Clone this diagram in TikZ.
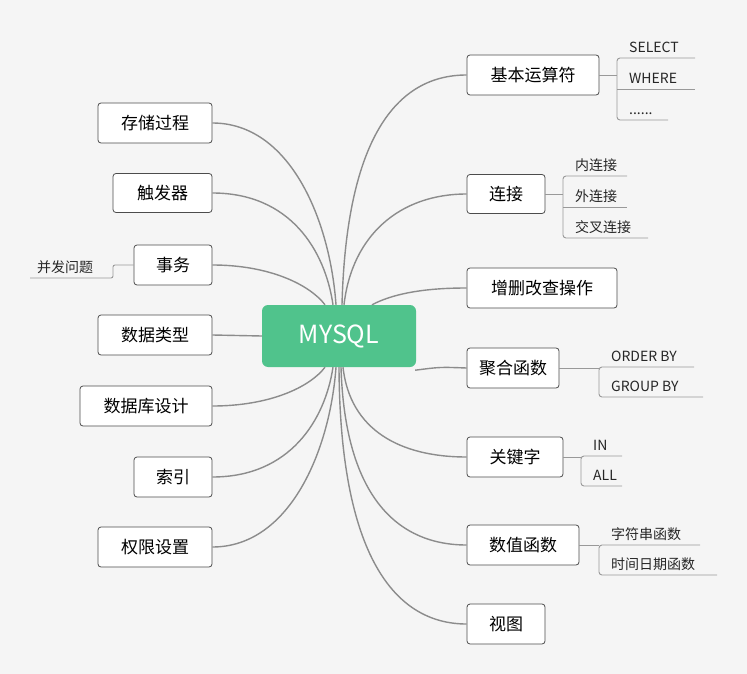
\documentclass[tikz,border=0pt]{standalone}
\usepackage{fontspec}
\setmainfont{Noto Sans CJK SC}
\begin{document}
\begin{tikzpicture}[x=1pt,y=-1pt,
  box/.style={draw=black!70,fill=white,rounded corners=3pt,line width=0.8pt,inner sep=0pt,font=\fontsize{17}{20}\selectfont},
  con/.style={draw=black!45,line width=1.4pt},
  sl/.style={draw=black!40,line width=0.9pt},
  st/.style={anchor=south west,inner sep=1pt,font=\fontsize{14}{17}\selectfont,text=black!85}]
\fill[black!4] (0,0) rectangle (747,674);
\useasboundingbox (0,0) rectangle (747,674);
\node[fill={rgb,255:red,80;green,195;blue,140},rounded corners=6pt,minimum width=154pt,minimum height=62pt,text=white,font=\fontsize{25}{30}\selectfont] (c) at (339,336) {MYSQL};
% right
\node[box,minimum width=132pt,minimum height=40pt] (r1) at (533,75) {基本运算符};
\node[box,minimum width=78pt,minimum height=39pt] (r2) at (506,194) {连接};
\node[box,minimum width=150pt,minimum height=40pt] (r3) at (542,288) {增删改查操作};
\node[box,minimum width=92pt,minimum height=40pt] (r4) at (513,368) {聚合函数};
\node[box,minimum width=96pt,minimum height=40pt] (r5) at (515,457) {关键字};
\node[box,minimum width=112pt,minimum height=40pt] (r6) at (523,545) {数值函数};
\node[box,minimum width=78pt,minimum height=40pt] (r7) at (506,624) {视图};
% left
\node[box,minimum width=114pt,minimum height=40pt] (l1) at (155,123) {存储过程};
\node[box,minimum width=99pt,minimum height=39pt] (l2) at (162.5,193) {触发器};
\node[box,minimum width=78pt,minimum height=40pt] (l3) at (173,265) {事务};
\node[box,minimum width=114pt,minimum height=40pt] (l4) at (155,335) {数据类型};
\node[box,minimum width=132pt,minimum height=40pt] (l5) at (146,406) {数据库设计};
\node[box,minimum width=78pt,minimum height=40pt] (l6) at (173,477) {索引};
\node[box,minimum width=114pt,minimum height=40pt] (l7) at (155,547) {权限设置};
% connectors right
\draw[con] ([xshift=3pt]c.north) .. controls (346,150) and (390,75) .. (r1.west);
\draw[con] ([xshift=5pt]c.north) .. controls (352,235) and (400,194) .. (r2.west);
\draw[con] ([xshift=33pt]c.north) .. controls (400,290) and (440,288) .. (r3.west);
\draw[con] ([yshift=-3pt,xshift=-1pt]c.south east) .. controls (440,367) .. (r4.west);
\draw[con] ([xshift=4pt]c.south) .. controls (350,430) and (400,457) .. (r5.west);
\draw[con] ([xshift=2pt]c.south) .. controls (345,500) and (400,545) .. (r6.west);
\draw[con] ([xshift=0pt]c.south) .. controls (340,565) and (400,624) .. (r7.west);
% connectors left
\draw[con] ([xshift=-3pt]c.north) .. controls (330,220) and (290,123) .. (l1.east);
\draw[con] ([xshift=-6pt]c.north) .. controls (325,250) and (290,193) .. (l2.east);
\draw[con] ([xshift=-14pt]c.north) .. controls (310,285) and (270,265) .. (l3.east);
\draw[con] (c.west) -- (l4.east);
\draw[con] ([xshift=-14pt]c.south) .. controls (310,387) and (270,406) .. (l5.east);
\draw[con] ([xshift=-6pt]c.south) .. controls (325,420) and (290,477) .. (l6.east);
\draw[con] ([xshift=-3pt]c.south) .. controls (330,450) and (290,547) .. (l7.east);
% sub items
\coordinate (b1) at (617,75);
\draw[sl] (r1.east) -- (b1);
\draw[sl,rounded corners=3pt] (695,58) -- (617,58) -- (617,120) -- (668,120);
\draw[sl] (617,89) -- (695,89);
\node[st] (s11) at (628,54) {SELECT};
\node[st] (s12) at (628,85) {WHERE};
\node[st] (s13) at (628,116) {......};
\coordinate (b2) at (563,194);
\draw[sl] (r2.east) -- (b2);
\draw[sl,rounded corners=3pt] (627,176) -- (563,176) -- (563,238) -- (648,238);
\draw[sl] (563,207) -- (627,207);
\node[st] (s21) at (574,173) {内连接};
\node[st] (s22) at (574,204) {外连接};
\node[st] (s23) at (574,235) {交叉连接};
\coordinate (b4) at (599,368);
\draw[sl] (r4.east) -- (b4);
\draw[sl,rounded corners=3pt] (694,367) -- (599,367) -- (599,397) -- (703,397);
\node[st] (s41) at (610,363) {ORDER BY};
\node[st] (s42) at (610,393) {GROUP BY};
\coordinate (b5) at (581,457);
\draw[sl] (r5.east) -- (b5);
\draw[sl,rounded corners=3pt] (622,456) -- (581,456) -- (581,486) -- (622,486);
\node[st] (s51) at (592,452) {IN};
\node[st] (s52) at (592,482) {ALL};
\coordinate (b6) at (599,545);
\draw[sl] (r6.east) -- (b6);
\draw[sl,rounded corners=3pt] (700,545) -- (599,545) -- (599,575) -- (717,575);
\node[st] (s61) at (610,542) {字符串函数};
\node[st] (s62) at (610,572) {时间日期函数};
\coordinate (b3) at (113,265);
\draw[sl,rounded corners=2pt] (l3.west) -- (b3) -- (113,278) -- (30,278);
\node[st] (s31) at (36,275) {并发问题};
\end{tikzpicture}
\end{document}
